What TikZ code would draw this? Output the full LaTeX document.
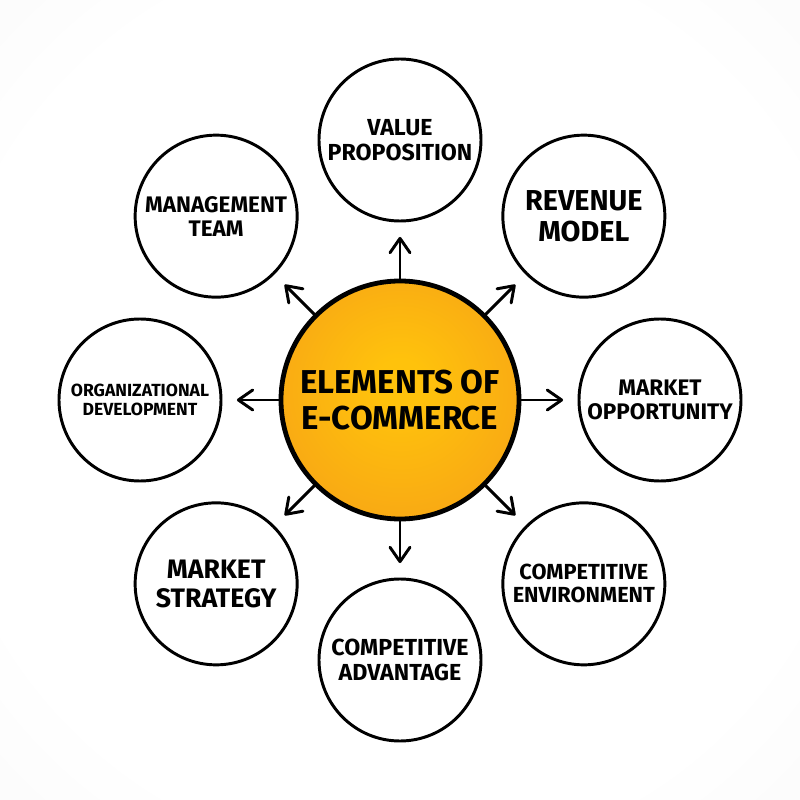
\documentclass[tikz,border=0pt]{standalone}
\usepackage{fontspec}
\setmainfont{Fira Sans}
\usetikzlibrary{arrows.meta}

\definecolor{jaunecoeur}{RGB}{255,194,12}
\definecolor{orangebord}{RGB}{242,144,28}
\pgfdeclareradialshading{fondclair}{\pgfpointorigin}{color(0bp)=(white); color(28bp)=(white); color(50bp)=(black!4); color(72bp)=(black!7)}
\pgfdeclareradialshading{lueur}{\pgfpoint{0bp}{4bp}}{color(0bp)=(jaunecoeur); color(5bp)=(jaunecoeur); color(50bp)=(orangebord)}

\begin{document}
\begin{tikzpicture}[x=1cm,y=1cm]
\tikzstyle{bulle} = [circle,draw=black,line width=2.1pt,fill=white,minimum size=4.05cm,align=center,inner sep=0pt,font=\bfseries] %cercles autour
\tikzstyle{coeur} = [circle,draw=black,line width=3.4pt,shading=lueur,minimum size=5.95cm,align=center,inner sep=0pt,font=\bfseries\fontsize{23.5}{26}\selectfont]
\tikzstyle{fleche} = [line width=2.1pt,line cap=round,-{Straight Barb[length=3.6mm,width=5mm,line cap=round,line join=round]},shorten >=0.36cm]

%fond
\fill[shading=fondclair] (-10,-10) rectangle (10,10);
\useasboundingbox (-10,-10) rectangle (10,10);

%le centre
\node[coeur] (E) at (0,0) {ELEMENTS OF\\E-COMMERCE};

%les huit bulles
\node[bulle,font=\bfseries\fontsize{16.5}{18}\selectfont] (VP) at (90:6.5) {VALUE\\PROPOSITION};
\node[bulle,font=\bfseries\fontsize{20.5}{22}\selectfont] (RM) at (45:6.5) {REVENUE\\MODEL};
\node[bulle,font=\bfseries\fontsize{16}{17}\selectfont] (MO) at (0:6.5) {MARKET\\OPPORTUNITY};
\node[bulle,font=\bfseries\fontsize{15.5}{16.5}\selectfont] (CE) at (-45:6.5) {COMPETITIVE\\ENVIRONMENT};
\node[bulle,font=\bfseries\fontsize{16.5}{18}\selectfont] (CA) at (-90:6.5) {COMPETITIVE\\ADVANTAGE};
\node[bulle,font=\bfseries\fontsize{19}{21}\selectfont] (MS) at (-135:6.5) {MARKET\\STRATEGY};
\node[bulle,font=\bfseries\fontsize{12.5}{14}\selectfont] (OD) at (180:6.5) {ORGANIZATIONAL\\DEVELOPMENT};
\node[bulle,font=\bfseries\fontsize{16}{17}\selectfont] (MT) at (135:6.5) {MANAGEMENT\\TEAM};

%les fleches
\foreach \b in {VP,RM,MO,CE,CA,MS,OD,MT}
  \draw[fleche] (E) -- (\b);
\end{tikzpicture}
\end{document}
